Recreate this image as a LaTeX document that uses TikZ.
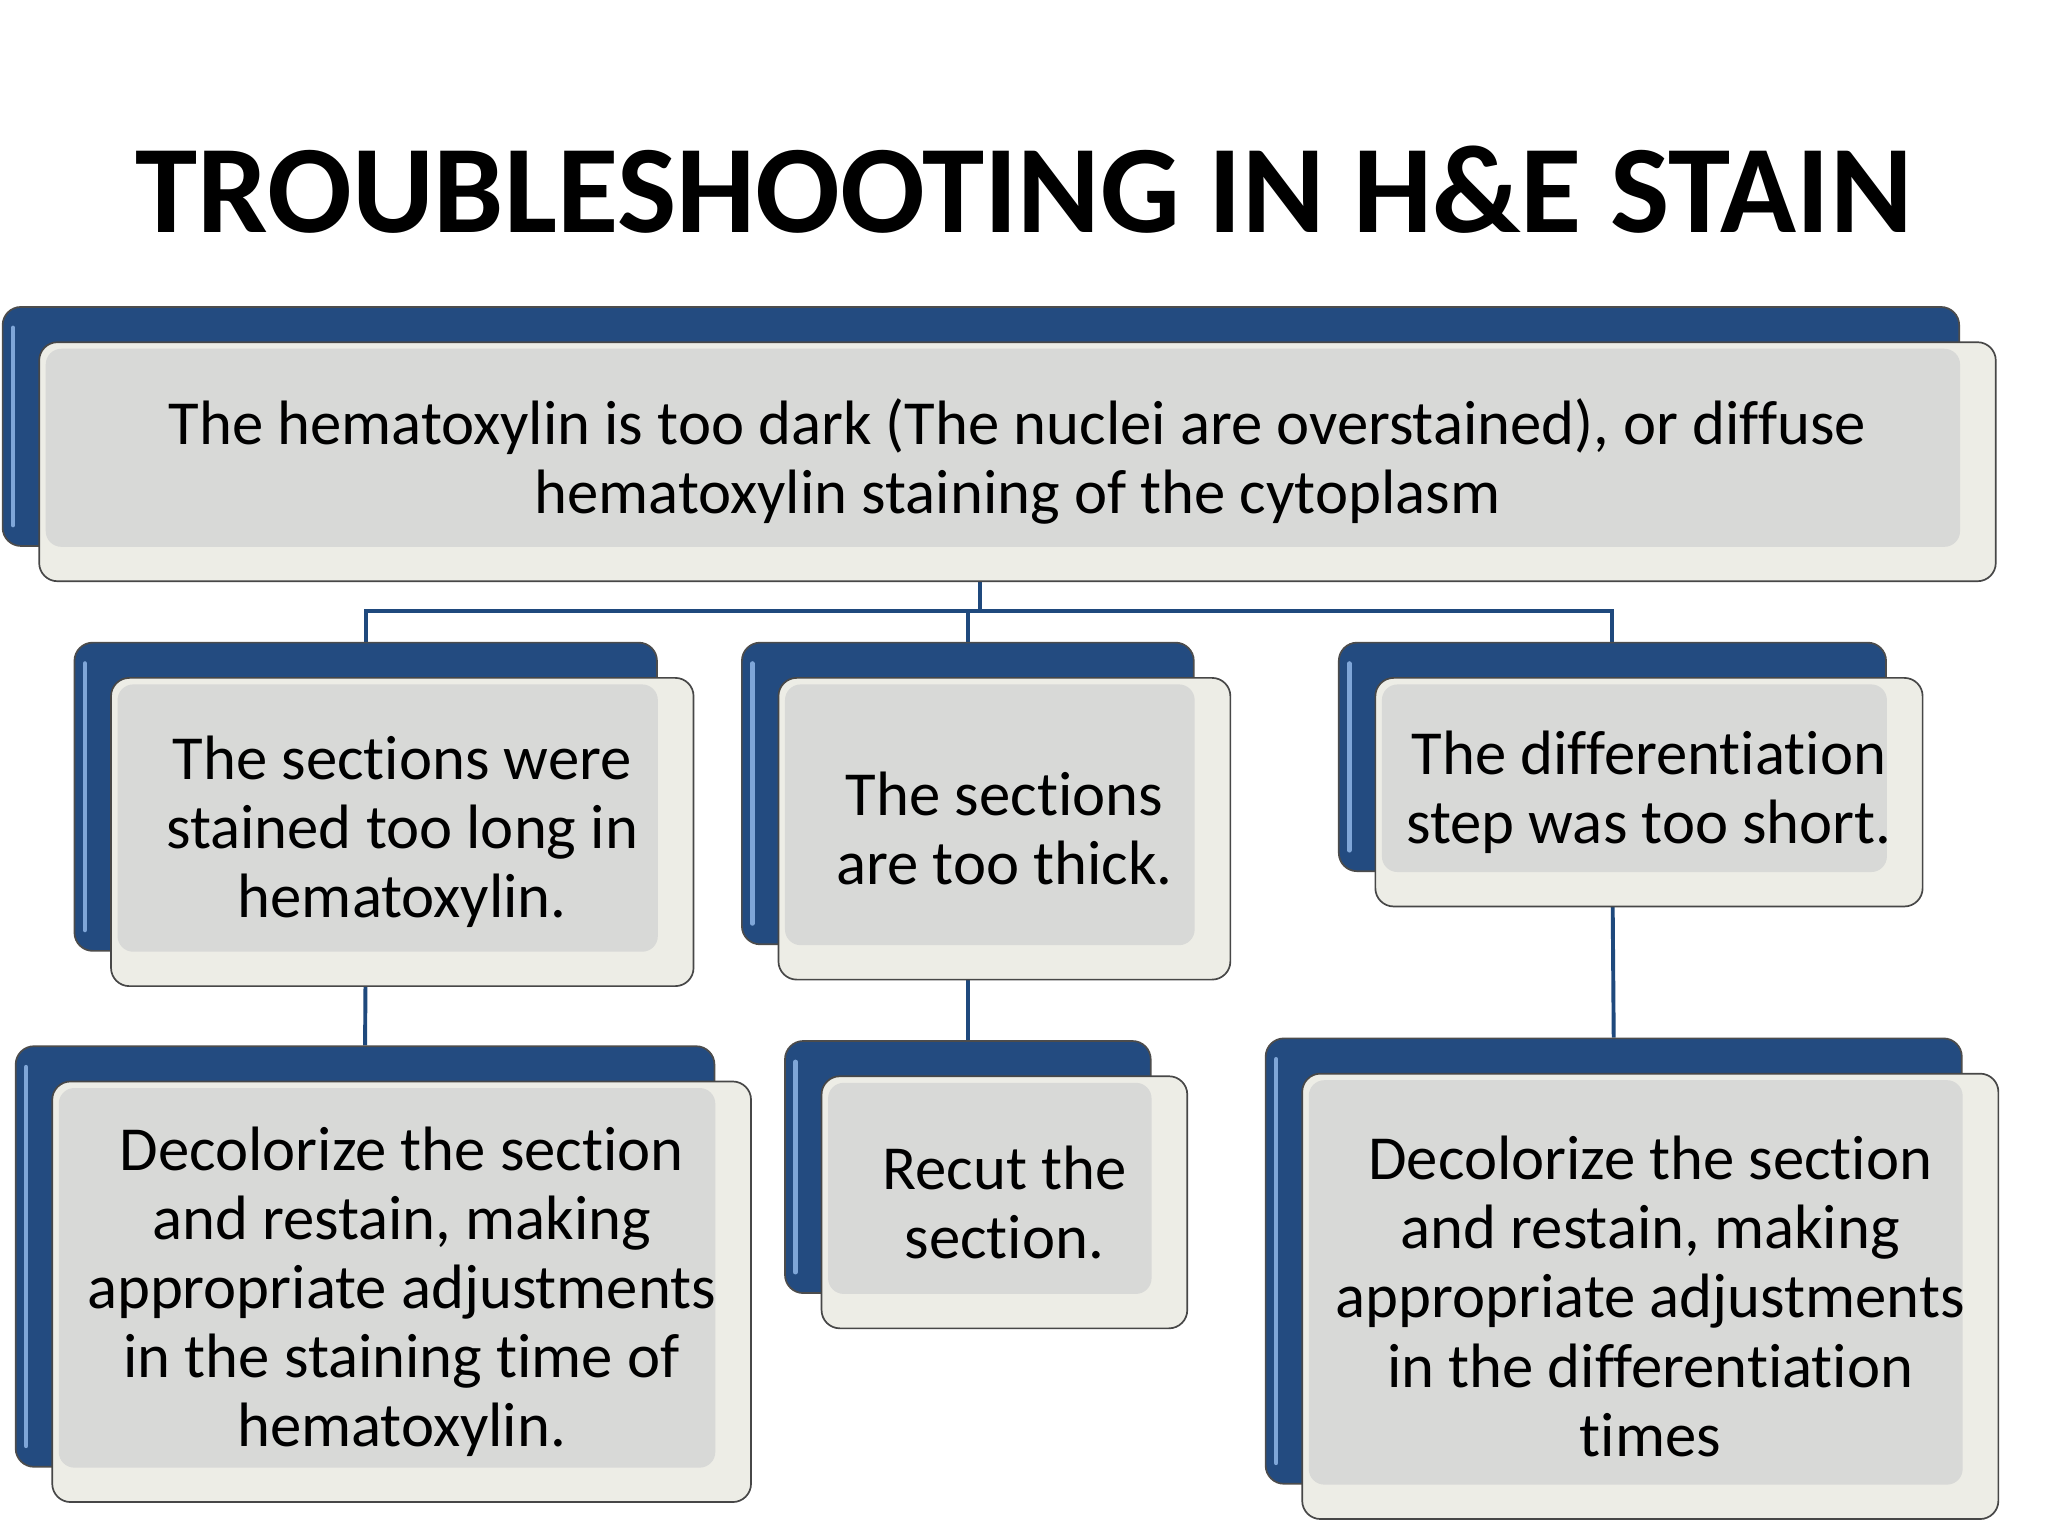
\documentclass[tikz,border=0pt]{standalone}
\usepackage{fontspec}
\setmainfont{Carlito}[Ligatures=NoCommon]
\usetikzlibrary{calc}
\pgfdeclarelayer{bg}
\pgfsetlayers{bg,main}
\definecolor{sablue}{HTML}{234B80}
\definecolor{sahigh}{HTML}{7FA6D8}
\definecolor{grayl}{HTML}{EDEDE6}
\definecolor{grayd}{HTML}{D8D9D7}
\definecolor{connblue}{HTML}{1F497D}
\tikzset{
  bluebox/.style={draw=black!70, line width=1.3pt, fill=sablue, rounded corners=14pt, inner sep=0pt,
    path picture={\draw[sahigh, line width=3.5pt, line cap=round]
      ($(path picture bounding box.north west)+(8,-16)$) -- ($(path picture bounding box.south west)+(8,16)$);}},
  graybox/.style={draw=black!72, line width=1.3pt, fill=grayl, rounded corners=14pt, inner sep=0pt,
    align=center, font=\fontsize{48}{53}\selectfont},
  conn/.style={draw=connblue, line width=3pt},
  titletext/.style={font=\fontsize{96}{110}\selectfont\bfseries}
}
\newcommand\smartbox[6]{%
  \node[bluebox, minimum width={(#4-#2)*1pt}, minimum height={(#5-#3)*1pt}]
    (#1b) at ({(#2+#4)/2},{-(#3+#5)/2}) {};
  \node[graybox, minimum width={(#4-#2)*1pt}, minimum height={(#5-#3)*1pt},
    path picture={\fill[grayd, rounded corners=12pt]
      ($(path picture bounding box.north west)+(5,-5)$) rectangle (#1b.south east);}]
    (#1g) at ({(#2+#4)/2+28},{-(#3+#5)/2-27}) {#6};
}
\begin{document}
\begin{tikzpicture}[x=1pt,y=1pt]
\useasboundingbox (0,0) rectangle (1568,-1176);

\node[titletext, anchor=base] (title) at (784,-178) {TROUBLESHOOTING IN H\&E STAIN};

\smartbox{top}{2}{235}{1500}{418}{The hematoxylin is too dark (The nuclei are overstained), or diffuse\\hematoxylin staining of the cytoplasm}

\smartbox{ml}{57}{492}{503}{728}{The sections were\\stained too long in\\hematoxylin.}
\smartbox{mm}{568}{492}{914}{723}{The sections\\are too thick.}
\smartbox{mr}{1025}{492}{1444}{667}{The differentiation\\step was too short.}

\smartbox{bl}{12}{801}{547}{1123}{Decolorize the section\\and restain, making\\appropriate adjustments\\in the staining time of\\hematoxylin.}
\smartbox{bm}{601}{797}{881}{990}{Recut the\\section.}
\smartbox{br}{969}{795}{1502}{1136}{Decolorize the section\\and restain, making\\appropriate adjustments\\in the differentiation\\times}

\begin{pgfonlayer}{bg}
  \fill[white] (0,0) rectangle (1568,-1176);
  \coordinate (j) at (750,-468);
  \draw[conn] (j |- topb.south) -- (j);
  \draw[conn] (mlb.north) -- (mlb.north |- j) -- (mrb.north |- j) -- (mrb.north);
  \draw[conn] (mmb.north) -- (mmb.north |- j);
  \draw[conn] (mlb.south) -- (blb.north);
  \draw[conn] (mmb.south) -- (bmb.north);
  \draw[conn] (mrb.south) -- (brb.north);
\end{pgfonlayer}
\end{tikzpicture}
\end{document}
